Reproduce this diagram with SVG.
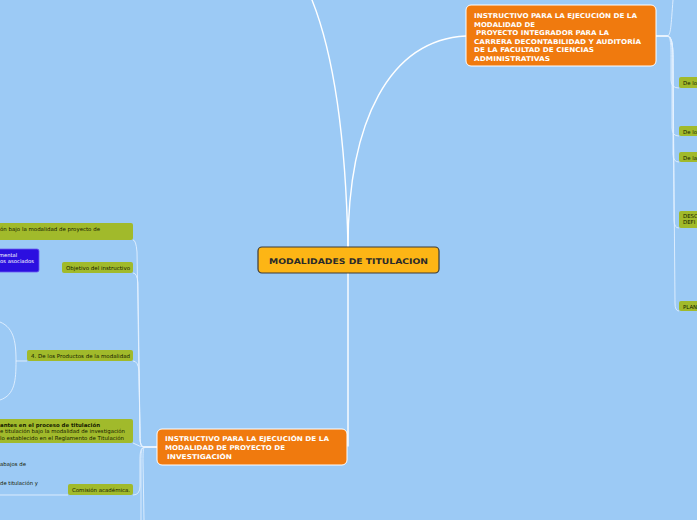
<svg xmlns="http://www.w3.org/2000/svg" width="697" height="520" viewBox="0 0 697 520">
<style>
.bg{fill:#9ccaf5}
.main{fill:none;stroke:#ffffff;stroke-width:1.4;stroke-linecap:round}
.thin{fill:none;stroke:#e6f2ff;stroke-width:1;stroke-opacity:0.85}
.orange{fill:#f07a0e;stroke:#ffffff;stroke-width:1}
.green{fill:#a1ba2b}
.otxt{font-family:"DejaVu Sans",Verdana,sans-serif;font-weight:bold;font-size:6.6px;fill:#ffffff}
.gtxt{font-family:"DejaVu Sans",Verdana,sans-serif;font-size:5.4px;fill:#161a00}
.wtxt{font-family:"DejaVu Sans",Verdana,sans-serif;font-size:5.2px;fill:#ffffff}
</style>
<rect class="bg" x="0" y="0" width="697" height="520"/>
<g id="connectors">
<path class="main" d="M348,247 C346,150 336,60 312,0"/>
<path class="main" d="M348,247 C348,120 390,40 466,36"/>
<path class="main" d="M348,273 C348,380 348,430 348,446"/>
<path class="main" d="M157,447 L145,447"/>
<path class="main" d="M656,36 L667,36"/>
<path class="thin" d="M667,36 C671,36 671,25 673,0"/>
<path class="thin" d="M667,36 C671,36 671,45 671,60 L671,80 Q671,88 679,88"/>
<path class="thin" d="M667,36 C672,36 672,45 672,60 L672,128 Q672,136 679,136"/>
<path class="thin" d="M667,36 C672,36 673,45 673,60 L673,154 Q673,162 679,162"/>
<path class="thin" d="M667,36 C672,36 673,45 673,60 L674,220 Q674,228 679,228"/>
<path class="thin" d="M667,36 C672,36 673,45 673,60 L675,303 Q675,311 679,311"/>
<path class="thin" d="M145,447 C141,447 140,444 140,436 L137,252 Q136,240 133,240"/>
<path class="thin" d="M145,447 C141,447 140,444 140,436 L138,283 Q137,273 133,273"/>
<path class="thin" d="M145,447 C141,447 140,444 140,436 L139,371 Q138,361 133,361"/>
<path class="thin" d="M145,447 Q140,447 133,443"/>
<path class="thin" d="M145,447 C141,447 140,451 140,460 L140,486 Q140,495 133,495"/>
<path class="thin" d="M145,447 C141,447 141,453 141,462 L141,520"/>
<path class="thin" d="M145,447 C143,447 143,453 143,462 L144,520"/>
<path class="thin" d="M27,361 L16,361"/>
<path class="thin" d="M16,361 C16,345 15,328 0,322"/>
<path class="thin" d="M16,361 C16,380 15,395 0,400"/>
<path class="thin" d="M0,495 L68,495"/>
</g>
<g id="center">
<rect x="258" y="247" width="181" height="26" rx="4" fill="#fdb515" stroke="#3a3a3a" stroke-width="1.2"/>
<text x="348.5" y="263.5" text-anchor="middle" font-family="'DejaVu Sans',Verdana,sans-serif" font-weight="bold" font-size="7.8" fill="#2a2a2a" textLength="159" lengthAdjust="spacingAndGlyphs">MODALIDADES DE TITULACION</text>
</g>
<g id="node-integrador">
<rect class="orange" x="466" y="5" width="190" height="61" rx="5"/>
<text class="otxt" x="474" y="18" textLength="163" lengthAdjust="spacingAndGlyphs">INSTRUCTIVO PARA LA EJECUCIÓN DE LA</text>
<text class="otxt" x="474" y="27" textLength="61" lengthAdjust="spacingAndGlyphs">MODALIDAD DE</text>
<text class="otxt" x="476" y="35" textLength="133" lengthAdjust="spacingAndGlyphs">PROYECTO INTEGRADOR PARA LA</text>
<text class="otxt" x="474" y="44" textLength="167" lengthAdjust="spacingAndGlyphs">CARRERA DECONTABILIDAD Y AUDITORÍA</text>
<text class="otxt" x="474" y="52" textLength="120" lengthAdjust="spacingAndGlyphs">DE LA FACULTAD DE CIENCIAS</text>
<text class="otxt" x="474" y="61" textLength="76" lengthAdjust="spacingAndGlyphs">ADMINISTRATIVAS</text>
</g>
<g id="node-r1"><rect class="green" x="679" y="77" width="24" height="11" rx="2"/><text class="gtxt" x="683" y="85">De lo</text></g>
<g id="node-r2"><rect class="green" x="679" y="126" width="24" height="10" rx="2"/><text class="gtxt" x="683" y="133.5">De lo</text></g>
<g id="node-r3"><rect class="green" x="679" y="152" width="24" height="10" rx="2"/><text class="gtxt" x="683" y="159.5">De la</text></g>
<g id="node-r4"><rect class="green" x="679" y="211" width="24" height="17" rx="2"/><text class="gtxt" x="683" y="218">DESC</text><text class="gtxt" x="683" y="224">DEFI</text></g>
<g id="node-r5"><rect class="green" x="679" y="301" width="24" height="10" rx="2"/><text class="gtxt" x="683" y="308.5">PLAN</text></g>
<g id="node-investigacion">
<rect class="orange" x="157" y="429" width="190" height="36" rx="5"/>
<text class="otxt" x="165" y="441" textLength="164" lengthAdjust="spacingAndGlyphs">INSTRUCTIVO PARA LA EJECUCIÓN DE LA</text>
<text class="otxt" x="165" y="450" textLength="120" lengthAdjust="spacingAndGlyphs">MODALIDAD DE PROYECTO DE</text>
<text class="otxt" x="167" y="459" textLength="65" lengthAdjust="spacingAndGlyphs">INVESTIGACIÓN</text>
</g>
<g id="node-l1"><rect class="green" x="-5" y="223" width="138" height="17" rx="2"/><text class="gtxt" x="0" y="231" textLength="100" lengthAdjust="spacingAndGlyphs">ón bajo la modalidad de proyecto de</text></g>
<g id="node-l2"><rect x="-5" y="249" width="44" height="23" rx="2" fill="#2b0fe0" stroke="#6a5cf0" stroke-width="0.8"/><text class="wtxt" x="-1" y="257">mental</text><text class="wtxt" x="0" y="263" textLength="34" lengthAdjust="spacingAndGlyphs">os asociados</text></g>
<g id="node-l3"><rect class="green" x="62" y="262" width="71" height="11" rx="2"/><text class="gtxt" x="66" y="269.7" textLength="64" lengthAdjust="spacingAndGlyphs">Objetivo del instructivo</text></g>
<g id="node-l4"><rect class="green" x="27" y="350" width="106" height="11" rx="2"/><text class="gtxt" x="31" y="357.7" textLength="99" lengthAdjust="spacingAndGlyphs">4. De los Productos de la modalidad</text></g>
<g id="node-l5"><rect class="green" x="-5" y="419" width="138" height="24" rx="2"/>
<text class="gtxt" x="0" y="427" font-weight="bold" fill="#000" textLength="100" lengthAdjust="spacingAndGlyphs">antes en el proceso de titulación</text>
<text class="gtxt" x="0" y="433" textLength="125" lengthAdjust="spacingAndGlyphs">e titulación bajo la modalidad de investigación</text>
<text class="gtxt" x="0" y="440" textLength="124" lengthAdjust="spacingAndGlyphs">lo establecido en el Reglamento de Titulación</text>
</g>
<g id="node-l6"><text class="gtxt" x="0" y="466" textLength="26" lengthAdjust="spacingAndGlyphs">abajos de</text></g>
<g id="node-l7"><text class="gtxt" x="0" y="485" textLength="38" lengthAdjust="spacingAndGlyphs">de titulación y</text></g>
<g id="node-l8"><rect class="green" x="68" y="484" width="65" height="11" rx="2"/><text class="gtxt" x="72" y="491.7" textLength="58" lengthAdjust="spacingAndGlyphs">Comisión académica.</text></g>
</svg>
